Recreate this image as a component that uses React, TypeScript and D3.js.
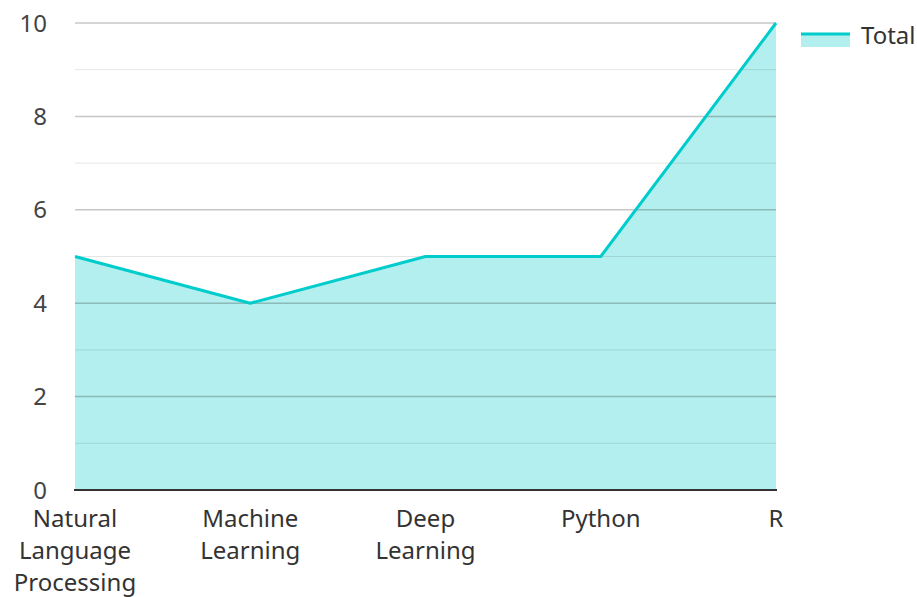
import React from "react";
import * as d3 from "d3";

const categories: string[][] = [
  ["Natural", "Language", "Processing"],
  ["Machine", "Learning"],
  ["Deep", "Learning"],
  ["Python"],
  ["R"],
];
const values: number[] = [5, 4, 5, 5, 10];
const yTicks: number[] = [0, 2, 4, 6, 8, 10];
const yMinorTicks: number[] = [1, 3, 5, 7, 9];
const seriesName = "Total";

const W = 917;
const H = 597;
const FONT = "'Noto Sans', sans-serif";
const LINE = "#00cccc";
const FILL = "#b2efee";
const FS = 24;

export default function App() {
  const x = d3.scalePoint<number>().domain(d3.range(values.length)).range([75, 776]);
  const y = d3.scaleLinear().domain([0, 10]).range([490, 23]);
  const area = d3.area<number>().x((_, i) => x(i)!).y0(y(0)).y1((d) => y(d));
  const line = d3.line<number>().x((_, i) => x(i)!).y((d) => y(d));

  return (
    <svg width={W} height={H} style={{ position: "absolute", left: 0, top: 0 }}>
      <rect width={W} height={H} fill="#fff" />
      <path d={area(values)!} fill={FILL} />
      {yMinorTicks.map((t) => (
        <line key={"m" + t} x1={75} x2={776} y1={y(t)} y2={y(t)} stroke="#000" strokeOpacity={0.1} strokeWidth={1} />
      ))}
      {yTicks.filter((t) => t !== 0).map((t) => (
        <line key={"g" + t} x1={75} x2={776} y1={y(t)} y2={y(t)} stroke="#000" strokeOpacity={0.22} strokeWidth={1.5} />
      ))}
      <path d={line(values)!} fill="none" stroke={LINE} strokeWidth={3} strokeLinejoin="round" />
      <line x1={74} x2={777} y1={y(0)} y2={y(0)} stroke="#333" strokeWidth={2} />
      {yTicks.map((t) => (
        <text key={"t" + t} x={47} y={y(t)} dy="0.36em" textAnchor="end" fontFamily={FONT} fontSize={FS} fill="#444">
          {t}
        </text>
      ))}
      {categories.map((lines, i) => (
        <text key={"c" + i} x={x(i)} y={527} textAnchor="middle" fontFamily={FONT} fontSize={FS} fill="#333">
          {lines.map((l, j) => (
            <tspan key={j} x={x(i)} dy={j === 0 ? 0 : 32}>
              {l}
            </tspan>
          ))}
        </text>
      ))}
      <rect x={801} y={34} width={49} height={13} fill={FILL} />
      <line x1={801} x2={850} y1={34} y2={34} stroke={LINE} strokeWidth={3} />
      <text x={861} y={44} fontFamily={FONT} fontSize={FS} fill="#333">
        {seriesName}
      </text>
    </svg>
  );
}
